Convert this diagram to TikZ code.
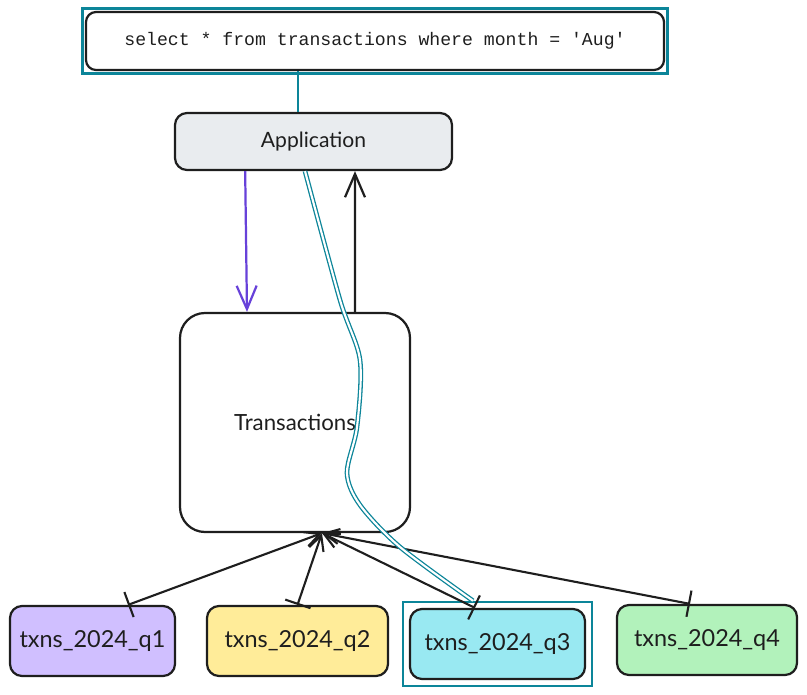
\documentclass[tikz,border=0pt]{standalone}
\usepackage{fontspec}
\setmainfont{Lato}
\setmonofont{Liberation Mono}
\usetikzlibrary{arrows.meta,fit}
\definecolor{ink}{HTML}{1E1E1E}
\definecolor{frameteal}{HTML}{0C8599}
\definecolor{reqviolet}{HTML}{6741D9}
\definecolor{appgray}{HTML}{E9ECEF}
\definecolor{qone}{HTML}{D0BFFF}
\definecolor{qtwo}{HTML}{FFEC99}
\definecolor{qthree}{HTML}{99E9F2}
\definecolor{qfour}{HTML}{B2F2BB}
\tikzset{
  box/.style={draw=ink, line width=1.9pt, rounded corners=0.36cm, text=ink,
    font=\fontsize{18}{21}\selectfont},
  part/.style={box, minimum height=2.1cm, font=\fontsize{20}{24}\selectfont},
  frame/.style={draw=frameteal, line width=1.9pt},
  link/.style={ink, line width=1.8pt,
    arrows={Bar[width=0.8cm]-Straight Barb[length=0.45cm,width=0.45cm]}},
  flow/.style={line width=1.9pt, -{Straight Barb[length=0.7cm,width=0.6cm]}},
}
\begin{document}
\begin{tikzpicture}[x=0.03cm, y=-0.03cm]
\useasboundingbox (0,0) rectangle (807,694);
% query box with teal frame
\node[box, fill=white, minimum width=17.34cm, minimum height=1.74cm, rounded corners=0.3cm,
  font=\ttfamily\fontsize{15.5}{18}\selectfont] (query) at (375,41)
  {select * from transactions where month = 'Aug'};
\node[frame, fit=(query), inner sep=0.07cm] (queryframe) {};
% application and parent table
\node[box, fill=appgray, minimum width=8.31cm, minimum height=1.71cm] (app) at (313.5,141.5) {Application};
\node[box, fill=white, minimum width=6.9cm, minimum height=6.57cm, rounded corners=0.75cm,
  font=\fontsize{19}{23}\selectfont] (trans) at (295,422.5) {Transactions\hspace{0.35cm}};
% partitions
\node[part, fill=qone,   minimum width=4.95cm] (q1) at (92.5,641)  {txns\_2024\_q1};
\node[part, fill=qtwo,   minimum width=5.43cm] (q2) at (297.5,641) {txns\_2024\_q2};
\node[part, fill=qthree, minimum width=5.25cm] (q3) at (497.5,644) {txns\_2024\_q3};
\node[part, fill=qfour,  minimum width=5.4cm]  (q4) at (707,640)   {txns\_2024\_q4};
\node[frame, fit=(q3), inner sep=0.18cm] (q3frame) {};
% query to application
\coordinate (tap) at (298,0);
\draw[frame] (query.south -| tap) -- (app.north -| tap);
% request and response
\draw[flow, reqviolet] ([xshift=-2.05cm]app.south) -- ([xshift=-1.44cm]trans.north);
\draw[flow, ink]       ([xshift=1.8cm]trans.north) -- ([xshift=1.245cm]app.south);
% partitions attached to the parent
\coordinate (hub) at ([xshift=0.81cm]trans.south);
\draw[link] ([xshift=1.065cm]q1.north) -- (hub);
\draw[link] (q2.north) -- (hub);
\draw[link] ([xshift=-0.675cm]q3.north) -- (hub);
\draw[link] ([xshift=-0.51cm]q4.north) -- (hub);
% pruned route to the q3 partition
\coordinate (routestart) at ([xshift=-0.255cm]app.south);
\coordinate (routeend) at ([xshift=-0.735cm]q3frame.north);
\draw[frameteal, line width=1.1pt, double=white, double distance=1.8pt]
  plot[smooth, tension=0.5] coordinates {(routestart) (340,300) (360,360) (357,427)
  (347,473) (360,505) (400,547) (routeend)};
\end{tikzpicture}
\end{document}
